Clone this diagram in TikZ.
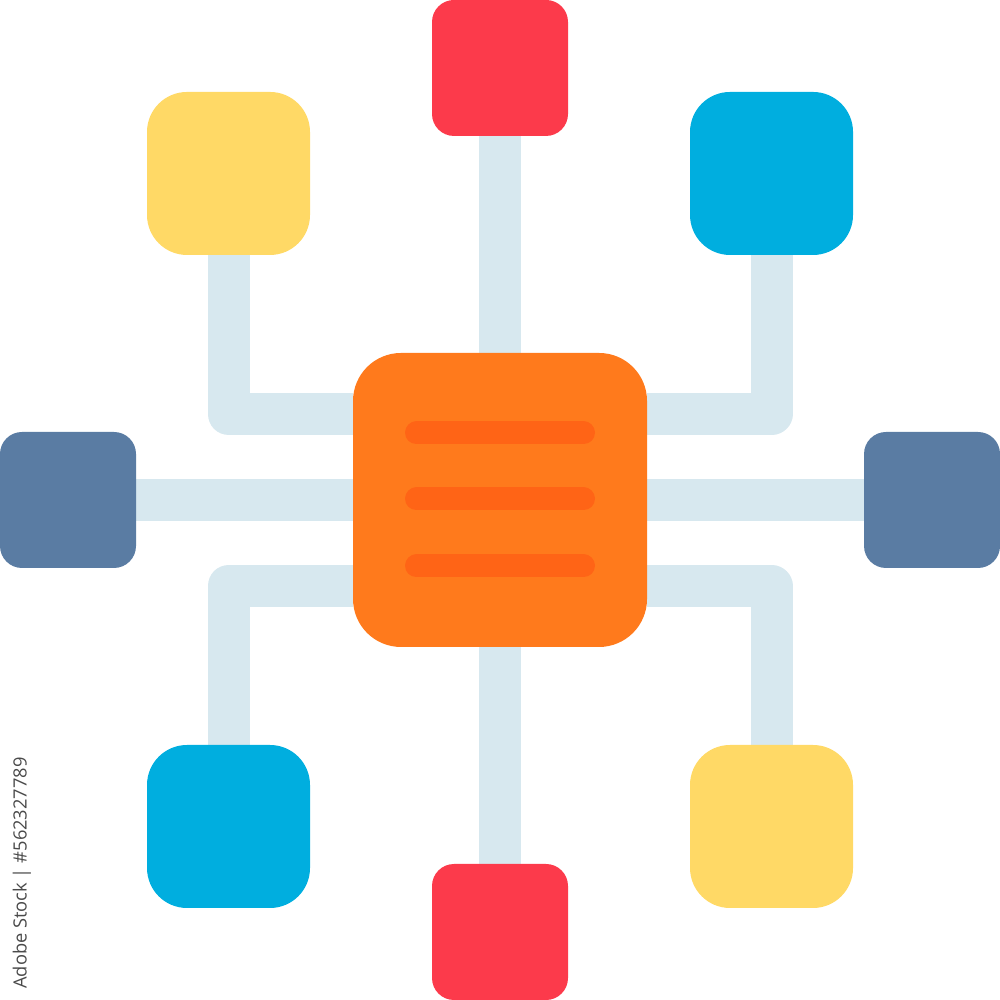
\documentclass[tikz,border=0pt]{standalone}
\usepackage{fontspec}
\setmainfont{Open Sans}
\usetikzlibrary{backgrounds}
\definecolor{cOrange}{HTML}{FF7A1C}
\definecolor{cOrangeD}{HTML}{FF6416}
\definecolor{cRed}{HTML}{FC3A4B}
\definecolor{cSlate}{HTML}{5A7CA3}
\definecolor{cYellow}{HTML}{FFD966}
\definecolor{cCyan}{HTML}{00AEDF}
\definecolor{cLink}{HTML}{D7E8EF}
\definecolor{cText}{HTML}{4A4A4A}
\tikzset{
  tile/.style={inner sep=0pt, outer sep=0pt, draw=none},
  smalltile/.style={tile, minimum size=1.36cm, rounded corners=0.22cm},
  midtile/.style={tile, minimum size=1.63cm, rounded corners=0.40cm},
  bigtile/.style={tile, minimum size=2.94cm, rounded corners=0.48cm, fill=cOrange},
  link/.style={draw=cLink, line width=0.42cm, line join=round, line cap=butt},
  bar/.style={draw=cOrangeD, line width=0.23cm, line cap=round},
}
\begin{document}
\begin{tikzpicture}
\useasboundingbox (0,0) rectangle (10,10);
\node[bigtile] (c) at (5,5) {};
\node[smalltile, fill=cRed] (top) at (5,9.32) {};
\node[smalltile, fill=cRed] (bot) at (5,0.68) {};
\node[smalltile, fill=cSlate] (lft) at (0.68,5) {};
\node[smalltile, fill=cSlate] (rgt) at (9.32,5) {};
\node[midtile, fill=cYellow] (tl) at (2.285,8.265) {};
\node[midtile, fill=cCyan] (tr) at (7.715,8.265) {};
\node[midtile, fill=cCyan] (bl) at (2.285,1.735) {};
\node[midtile, fill=cYellow] (br) at (7.715,1.735) {};
\begin{pgfonlayer}{background}
  \draw[link] (top.south) -- (bot.north);
  \draw[link] (lft.east) -- (rgt.west);
  \draw[link] (tl.south) |- ([yshift=0.86cm]c.west);
  \draw[link] (tr.south) |- ([yshift=0.86cm]c.east);
  \draw[link] (bl.north) |- ([yshift=-0.86cm]c.west);
  \draw[link] (br.north) |- ([yshift=-0.86cm]c.east);
\end{pgfonlayer}
\foreach \dy in {0.67,0.01,-0.66}{
  \draw[bar] ([shift={(-0.835,\dy)}]c.center) -- ([shift={(0.835,\dy)}]c.center);
}
\node[rotate=90, text=cText, font=\fontsize{5.2pt}{6pt}\selectfont, inner sep=0pt] (wm) at (0.22,1.27) {Adobe Stock | \#562327789};
\end{tikzpicture}
\end{document}
